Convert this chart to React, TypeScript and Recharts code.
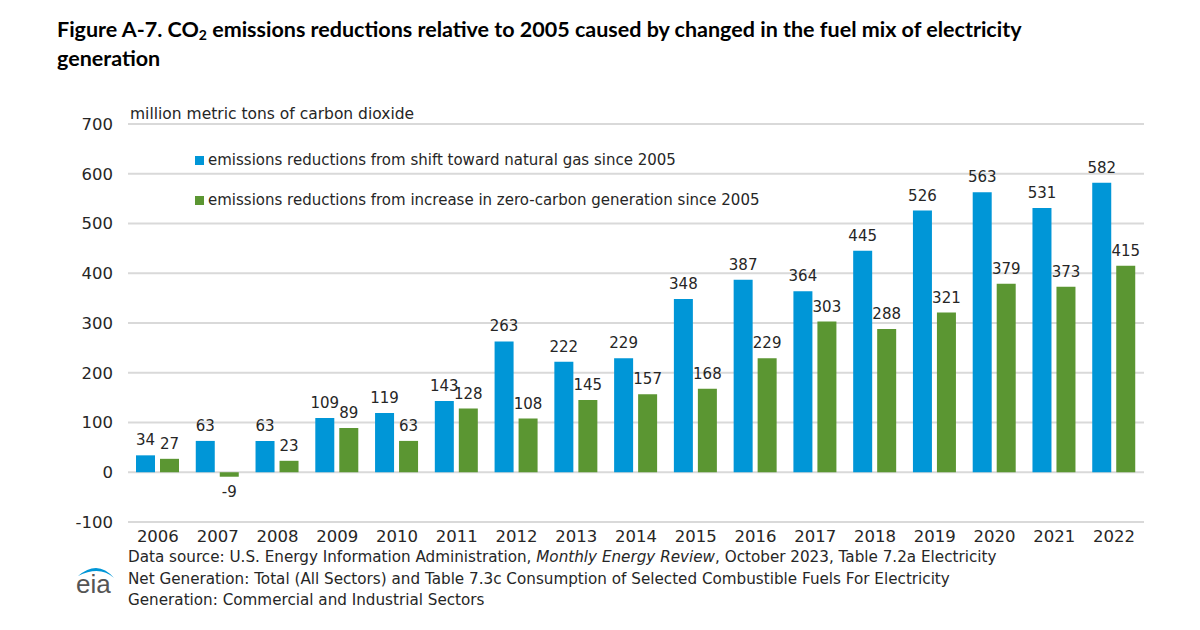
import React from "react";
import {
  BarChart,
  Bar,
  XAxis,
  YAxis,
  CartesianGrid,
  LabelList,
} from "recharts";

const years = [
  "2006", "2007", "2008", "2009", "2010", "2011", "2012", "2013", "2014",
  "2015", "2016", "2017", "2018", "2019", "2020", "2021", "2022",
];
const naturalGas = [34, 63, 63, 109, 119, 143, 263, 222, 229, 348, 387, 364, 445, 526, 563, 531, 582];
const zeroCarbon = [27, -9, 23, 89, 63, 128, 108, 145, 157, 168, 229, 303, 288, 321, 379, 373, 415];
const yTicks = [-100, 0, 100, 200, 300, 400, 500, 600, 700];

const GAS_NAME = "emissions reductions from shift toward natural gas since 2005";
const ZERO_NAME = "emissions reductions from increase in zero-carbon generation since 2005";

const BLUE = "#0096d7";
const GREEN = "#5b9632";
const TEXT = "#262626";
const FONT = "'DejaVu Sans', sans-serif";

const data = years.map((y, i) => ({ year: y, gas: naturalGas[i], zero: zeroCarbon[i] }));

const legendItems = [
  { name: GAS_NAME, color: BLUE },
  { name: ZERO_NAME, color: GREEN },
];

export default function App() {
  return (
    <div style={{ position: "absolute", left: 0, top: 0, width: 1200, height: 630, background: "#fff", overflow: "hidden" }}>
      <div
        style={{
          position: "absolute",
          left: 57,
          top: 15,
          width: 1120,
          fontFamily: "Lato, 'Open Sans', sans-serif",
          fontWeight: 700,
          fontSize: 21.5,
          lineHeight: "29px",
          color: "#000",
        }}
      >
        Figure A-7. CO<sub style={{ fontSize: 14, verticalAlign: "-3px", lineHeight: 0 }}>2</sub> emissions reductions relative to 2005 caused by changed in the fuel mix of electricity
        <br />
        generation
      </div>
      <BarChart
        width={1200}
        height={630}
        data={data}
        margin={{ top: 124, right: 56, bottom: 78, left: 68 }}
        barSize={19}
        barGap={5}
        style={{ position: "absolute", left: 0, top: 0 }}
      >
        <CartesianGrid horizontal vertical={false} stroke="#d9d9d9" strokeWidth={2} />
        <XAxis
          dataKey="year"
          height={30}
          axisLine={false}
          tickLine={false}
          tickMargin={2}
          interval={0}
          tick={{ fontFamily: FONT, fontSize: 16.5, fill: TEXT }}
        />
        <YAxis
          width={60}
          domain={[-100, 700]}
          ticks={yTicks}
          axisLine={false}
          tickLine={false}
          tickMargin={9}
          interval={0}
          tick={{ fontFamily: FONT, fontSize: 16.5, fill: TEXT }}
        />
        <Bar dataKey="gas" name={GAS_NAME} fill={BLUE} isAnimationActive={false}>
          <LabelList dataKey="gas" position="top" offset={10} style={{ fontFamily: FONT, fontSize: 15, fill: TEXT }} />
        </Bar>
        <Bar dataKey="zero" name={ZERO_NAME} fill={GREEN} isAnimationActive={false}>
          <LabelList dataKey="zero" position="top" offset={10} style={{ fontFamily: FONT, fontSize: 15, fill: TEXT }} />
        </Bar>
      </BarChart>
      <div style={{ position: "absolute", left: 130, top: 105, fontFamily: FONT, fontSize: 15.5, color: TEXT, background: "#fff" }}>
        million metric tons of carbon dioxide
      </div>
      <div style={{ position: "absolute", left: 195, top: 140, fontFamily: FONT, fontSize: 15, color: TEXT }}>
        {legendItems.map((it) => (
          <div key={it.name} style={{ display: "flex", alignItems: "center", height: 40 }}>
            <span style={{ width: 9, height: 9, background: it.color, marginRight: 4, display: "inline-block" }} />
            {it.name}
          </div>
        ))}
      </div>
      {/* eia logo */}
      <svg style={{ position: "absolute", left: 70, top: 560 }} width={50} height={40}>
        <path d="M 8 16 Q 28 -1 44 18 Q 30 5 8 16 Z" fill={BLUE} />
        <text x={6} y={33} fontFamily="'Liberation Sans', Arial, sans-serif" fontSize={26} fill="#555">eia</text>
      </svg>
      <div
        style={{
          position: "absolute",
          left: 128,
          top: 547,
          fontFamily: FONT,
          fontSize: 15.2,
          lineHeight: "21.5px",
          color: TEXT,
        }}
      >
        Data source: U.S. Energy Information Administration, <i>Monthly Energy Review</i>, October 2023, Table 7.2a Electricity
        <br />
        Net Generation: Total (All Sectors) and Table 7.3c Consumption of Selected Combustible Fuels For Electricity
        <br />
        Generation: Commercial and Industrial Sectors
      </div>
    </div>
  );
}
